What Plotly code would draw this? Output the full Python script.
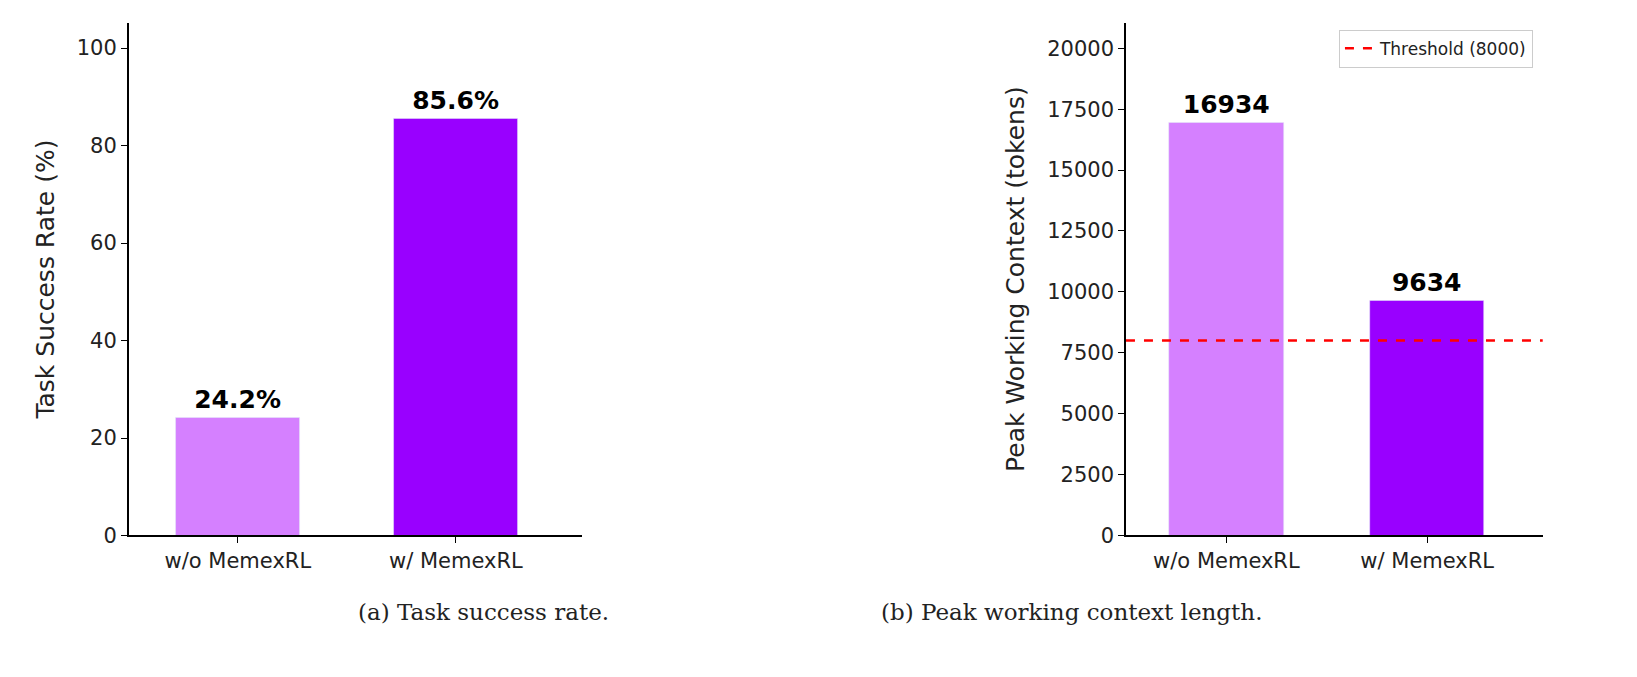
import plotly.graph_objects as go

categories = ["w/o MemexRL", "w/ MemexRL"]
success = [24.2, 85.6]
peak_ctx = [16934, 9634]
threshold = 8000
colors = ["#d580ff", "#9900ff"]

W, H = 1637, 677
fig = go.Figure()

fig.add_trace(go.Bar(x=categories, y=success, marker_color=colors, width=0.57,
                     text=[f"<b>{v}%</b>" for v in success], textposition="outside",
                     textfont=dict(size=25, color="black"), cliponaxis=False,
                     showlegend=False, xaxis="x", yaxis="y"))
fig.add_trace(go.Bar(x=categories, y=peak_ctx, marker_color=colors, width=0.57,
                     text=[f"<b>{v}</b>" for v in peak_ctx], textposition="outside",
                     textfont=dict(size=25, color="black"), cliponaxis=False,
                     showlegend=False, xaxis="x2", yaxis="y2"))
fig.add_trace(go.Scatter(x=[-0.5, 1.576], y=[threshold, threshold], mode="lines",
                         line=dict(color="red", dash="dash", width=2.5),
                         name=f"Threshold ({threshold})", xaxis="x3", yaxis="y2"))

ydom = [1 - 537 / H, 1 - 15 / H]
axcommon = dict(showline=True, linecolor="black", linewidth=1.5, ticks="outside",
                ticklen=6, tickcolor="black", tickfont=dict(size=21, color="#222"),
                showgrid=False, zeroline=False)
fig.update_layout(
    autosize=True, plot_bgcolor="white", paper_bgcolor="white",
    margin=dict(l=0, r=0, t=0, b=0), font=dict(family="DejaVu Sans"),
    bargap=0,
    xaxis=dict(domain=[122 / W, 580 / W], range=[-0.5, 1.58], **axcommon),
    yaxis=dict(domain=ydom, range=[0, 105.2], tickvals=[0, 20, 40, 60, 80, 100],
               title=dict(text="Task Success Rate (%)", font=dict(size=25, color="#222")),
               **axcommon),
    xaxis2=dict(domain=[1129 / W, 1550 / W], range=[-0.5, 1.576], anchor="y2", **axcommon),
    xaxis3=dict(domain=[1129 / W, 1550 / W], range=[-0.5, 1.576], anchor="y2",
                overlaying="x2", visible=False),
    yaxis2=dict(domain=ydom, range=[0, 21048], anchor="x2", tickformat="d",
                tickvals=list(range(0, 20001, 2500)),
                title=dict(text="Peak Working Context (tokens)", font=dict(size=25, color="#222")),
                **axcommon),
    legend=dict(x=1540 / W, y=1 - 22 / H, xanchor="right", yanchor="top",
                bgcolor="white", bordercolor="#ccc", borderwidth=1,
                font=dict(size=17, color="#222")),
    annotations=[
        dict(text="(a) Task success rate.", x=351 / W, y=1 - 630 / H, xref="paper", yref="paper",
             showarrow=False, font=dict(family="DejaVu Serif", size=23, color="#222")),
        dict(text="(b) Peak working context length.", x=1268 / W, y=1 - 630 / H, xref="paper",
             yref="paper", showarrow=False,
             font=dict(family="DejaVu Serif", size=23, color="#222")),
    ],
)
fig.write_html("out.html", default_width="100%", default_height="100vh",
               config={"responsive": True})
